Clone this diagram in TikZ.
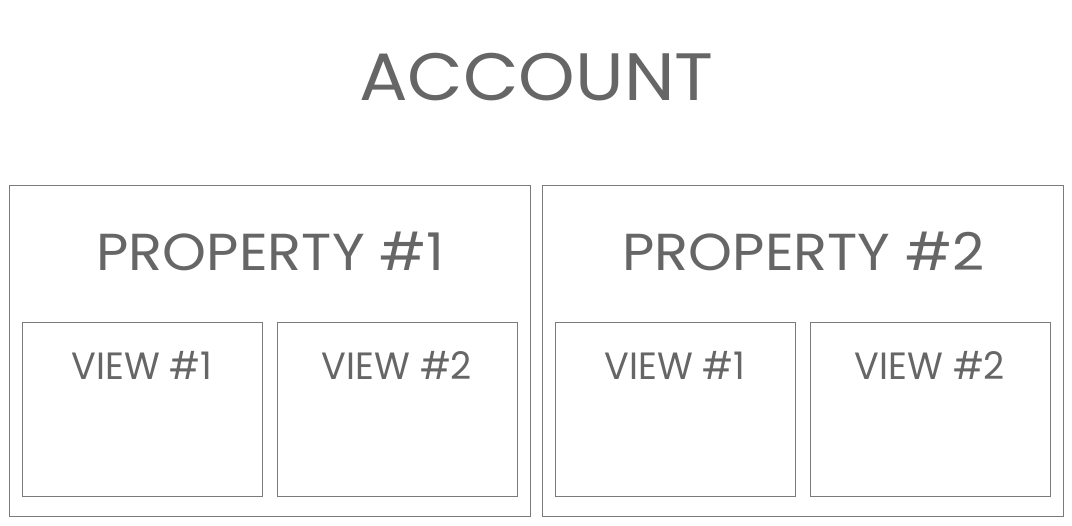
\documentclass[tikz,border=0pt]{standalone}
\usepackage{fontspec}
\usepackage{graphicx}
\setmainfont{Poppins}
\definecolor{txt}{HTML}{666666}
\definecolor{ln}{HTML}{7A7A7A}
\begin{document}
\begin{tikzpicture}[x=1pt,y=1pt,
  box/.style={draw=ln,line width=1pt,inner sep=0pt},
  outerbox/.style={box,minimum width=521pt,minimum height=331pt},
  viewbox/.style={box,minimum width=240pt,minimum height=174pt},
  lbl/.style={text=txt,anchor=base,inner sep=0pt}]
\useasboundingbox (0,0) rectangle (1072,526);
\node[lbl,font=\fontsize{67}{67}\selectfont] (account) at (536.5,425) {\scalebox{1.075}[1]{ACCOUNT}};
\node[outerbox] (p1) at (270,175) {};
\node[outerbox] (p2) at (803,175) {};
\node[lbl,font=\fontsize{52}{52}\selectfont] (p1t) at (270.5,255) {\scalebox{1.075}[1]{PROPERTY \#1}};
\node[lbl,font=\fontsize{52}{52}\selectfont] (p2t) at (803.5,255) {\scalebox{1.075}[1]{PROPERTY \#2}};
\node[viewbox] (v11) at (142,116) {};
\node[viewbox] (v12) at (397,116) {};
\node[viewbox] (v21) at (675,116) {};
\node[viewbox] (v22) at (930,116) {};
\node[lbl,font=\fontsize{38}{38}\selectfont] (v11t) at (142,146) {\scalebox{0.965}[1]{VIEW \#1}};
\node[lbl,font=\fontsize{38}{38}\selectfont] (v12t) at (397,146) {\scalebox{0.965}[1]{VIEW \#2}};
\node[lbl,font=\fontsize{38}{38}\selectfont] (v21t) at (675,146) {\scalebox{0.965}[1]{VIEW \#1}};
\node[lbl,font=\fontsize{38}{38}\selectfont] (v22t) at (930,146) {\scalebox{0.965}[1]{VIEW \#2}};
\end{tikzpicture}
\end{document}
